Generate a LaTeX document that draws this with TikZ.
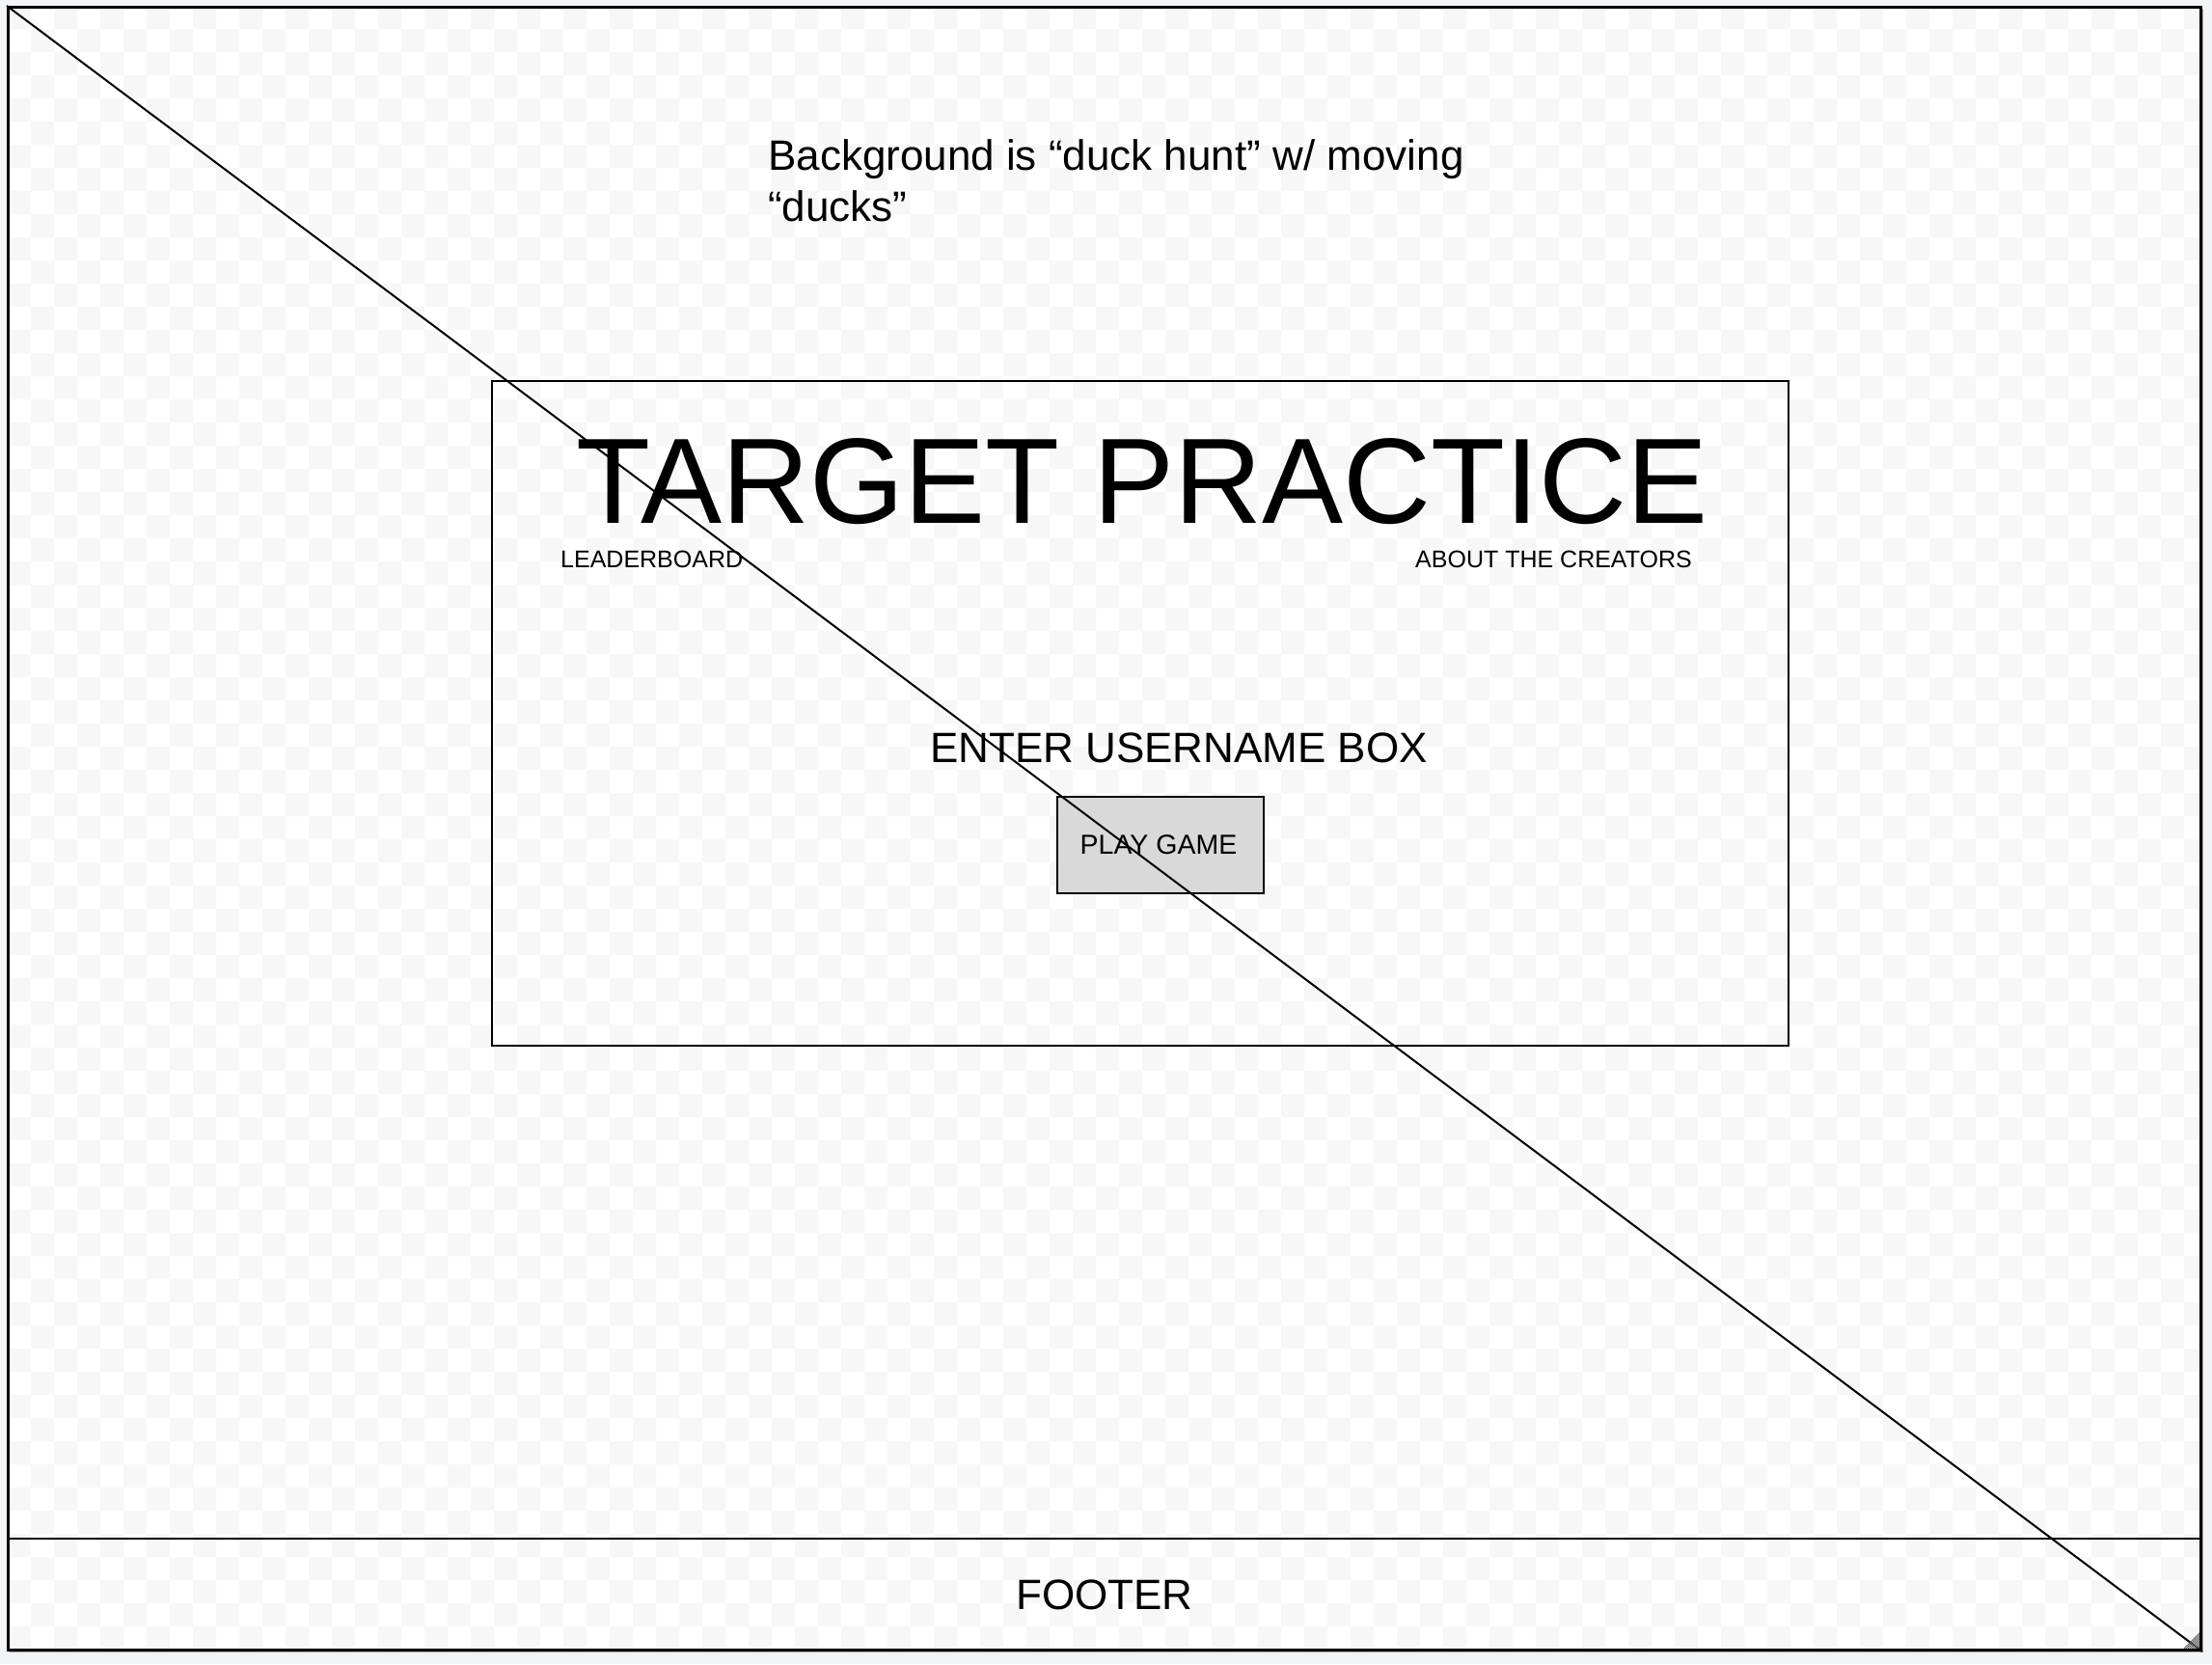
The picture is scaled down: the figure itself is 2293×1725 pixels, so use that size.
\documentclass[tikz,border=0pt]{standalone}
\usepackage{fontspec}
\setmainfont{Liberation Sans}
\definecolor{outerbg}{HTML}{F3F4F6}
\definecolor{checkgray}{HTML}{F7F7F7}
\definecolor{btnfill}{HTML}{D9D9D9}
\tikzset{
  frame/.style={draw=black, line width=3pt, inner sep=0pt, anchor=north west},
  thinbox/.style={draw=black, line width=2pt, inner sep=0pt, anchor=north west},
  label/.style={inner sep=0pt, text=black},
}
\begin{document}
\begin{tikzpicture}[x=1pt,y=-1pt]
\useasboundingbox (0,0) rectangle (2293,1725);
\fill[outerbg] (0,0) rectangle (2293,1725);
% shadow of the frame
\draw[gray!70, line width=2pt] (10,1712) -- (2283,1712) -- (2283,9);
\fill[white] (7,6) rectangle (2280,1709);
\begin{scope}
\clip (7,6) rectangle (2280,1709);
\fill[checkgray]
  \foreach \a in {0,...,47}{\foreach \c in {0,...,35}{
    (8+48*\a,6+48*\c) rectangle ++(24,24)
    (32+48*\a,30+48*\c) rectangle ++(24,24)}};
\end{scope}
% frame and footer
\node[frame, minimum width=2273pt, minimum height=1703pt] (page) at (7,6) {};
\node[frame, line width=2pt, minimum width=2273pt, minimum height=115pt] (footer) at (7,1594) {};
\node[label, font=\fontsize{44}{53}\selectfont, anchor=base] (footertext) at (1145,1668) {FOOTER};
% inner box
\node[thinbox, minimum width=1344pt, minimum height=689pt] (panel) at (509,394) {};
% texts
\node[label, font=\fontsize{44}{53}\selectfont, align=left, anchor=base west] (bgnote) at (796,229)
  {Background is “duck hunt” w/ moving\\“ducks”};
\node[label, font=\fontsize{126}{150}\selectfont, anchor=base] (title) at (1184,542) {TARGET PRACTICE};
\node[label, font=\fontsize{25}{29}\selectfont, anchor=base west] (leader) at (581,588) {LEADERBOARD};
\node[label, font=\fontsize{25}{29}\selectfont, anchor=base east] (about) at (1754,588) {ABOUT THE CREATORS};
\node[label, font=\fontsize{44}{50}\selectfont, anchor=base] (username) at (1222,790) {ENTER USERNAME BOX};
\node[draw=black, line width=2pt, fill=btnfill, minimum width=214pt, minimum height=100pt,
      inner sep=0pt] (play) at (1203,876) {};
\node[label, font=\fontsize{28.5}{32}\selectfont] (playtext) at (1201,876) {PLAY GAME};
% diagonal cross-out line
\draw[line width=2pt] (page.north west) -- (page.south east);
% resize grip
\begin{scope}
\clip (2262,1691) -- (2280,1691) -- (2280,1709) -- (2262,1709) -- cycle;
\foreach \k in {0,4,8,12,16}{
  \draw[gray!80!black, line width=0.8pt] (2280-\k,1709) -- (2280,1709-\k);
  \draw[gray!80!black, line width=0.8pt] (2266+\k,1709) -- (2280,1695+\k);}
\end{scope}
\end{tikzpicture}
\end{document}
